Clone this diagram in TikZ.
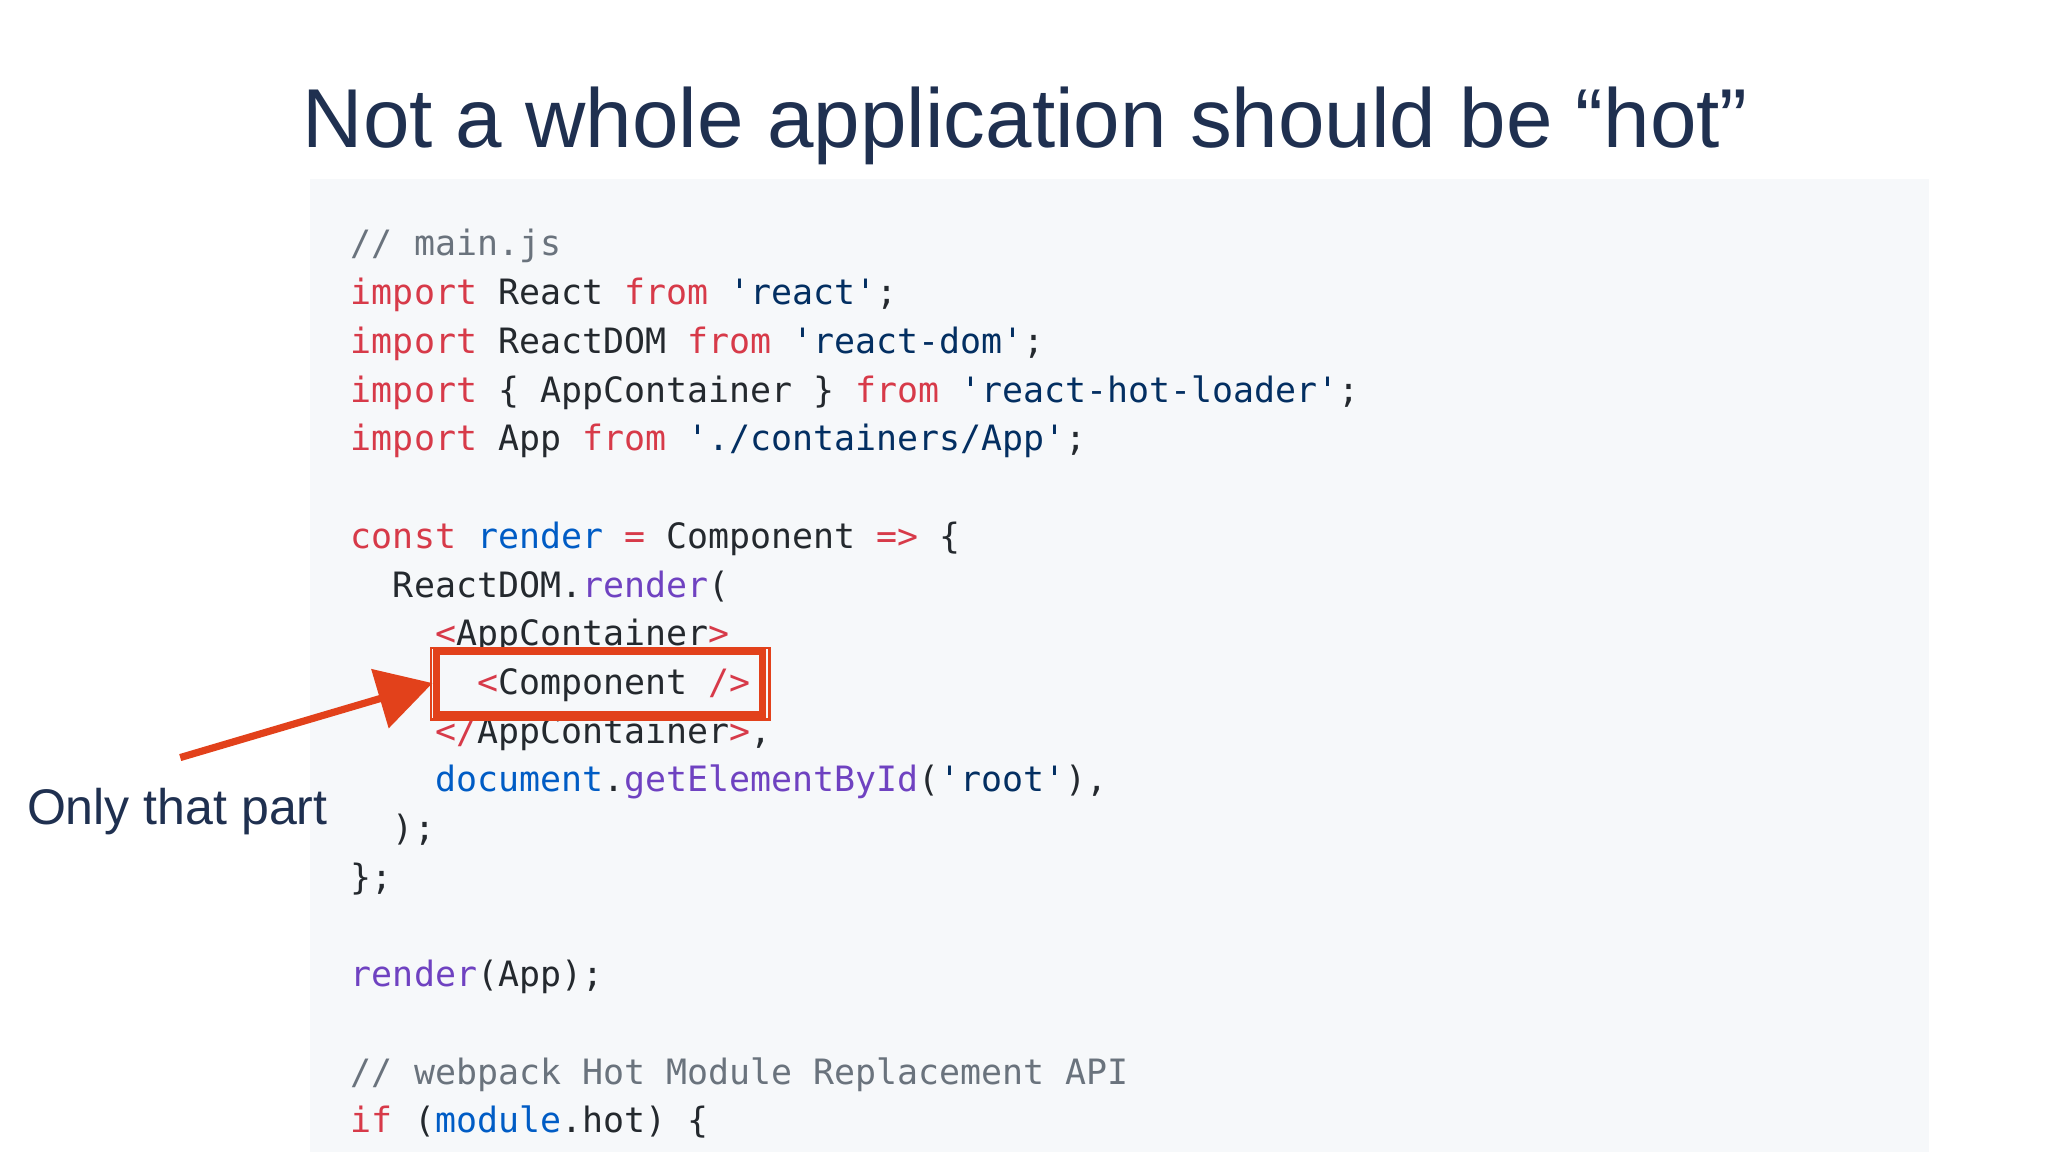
\documentclass[tikz,border=0pt]{standalone}
\usepackage{fontspec}
\setmainfont{Liberation Sans}
\newfontfamily\codefont{DejaVu Sans Mono}
\usetikzlibrary{arrows.meta}
\definecolor{kw}{HTML}{D73A49}
\definecolor{st}{HTML}{032F62}
\definecolor{fn}{HTML}{6F42C1}
\definecolor{bl}{HTML}{005CC5}
\definecolor{cm}{HTML}{6A737D}
\definecolor{df}{HTML}{24292E}
\definecolor{navy}{HTML}{1F3050}
\definecolor{hlred}{HTML}{E2411B}
\definecolor{codebg}{HTML}{F6F8FA}
\newcommand\q{\char"27\relax}
\newcommand\K[1]{\textcolor{kw}{#1}}
\newcommand\Sx[1]{\textcolor{st}{#1}}
\newcommand\F[1]{\textcolor{fn}{#1}}
\newcommand\B[1]{\textcolor{bl}{#1}}
\newcommand\C[1]{\textcolor{cm}{#1}}
\tikzset{codeline/.style={anchor=base west,inner sep=0pt,text=df,font=\codefont\fontsize{7.6}{9}\selectfont}}
\begin{document}
\begin{tikzpicture}[x=0.01cm,y=-0.01cm]
\useasboundingbox (0,0) rectangle (1568,882);
\fill[codebg] (237,137) rectangle (1477,882);
\node[anchor=base,inner sep=0pt,text=navy,font=\fontsize{18.2}{22}\selectfont] (title) at (785,113) {Not a whole application should be “hot”};
\newcommand\Ln[3]{\node[codeline] (#1) at (268,{186+37.3*#2+10}) {#3};}
\Ln{l0}{0}{\C{// main.js}}
\Ln{l1}{1}{\K{import} React \K{from} \Sx{\q react\q};}
\Ln{l2}{2}{\K{import} ReactDOM \K{from} \Sx{\q react-dom\q};}
\Ln{l3}{3}{\K{import} \{ AppContainer \} \K{from} \Sx{\q react-hot-loader\q};}
\Ln{l4}{4}{\K{import} App \K{from} \Sx{\q ./containers/App\q};}
\Ln{l6}{6}{\K{const} \B{render} \K{=} Component \K{=>} \{}
\Ln{l7}{7}{\ \ ReactDOM.\F{render}(}
\Ln{l8}{8}{\ \ \ \ \K{<}AppContainer\K{>}}
\Ln{l9}{9}{\ \ \ \ \ \ \K{<}Component \K{/>}}
\Ln{l10}{10}{\ \ \ \ \K{</}AppContainer\K{>},}
\Ln{l11}{11}{\ \ \ \ \B{document}.\F{getElementById}(\Sx{\q root\q}),}
\Ln{l12}{12}{\ \ );}
\Ln{l13}{13}{\};}
\Ln{l15}{15}{\F{render}(App);}
\Ln{l17}{17}{\C{// webpack Hot Module Replacement API}}
\Ln{l18}{18}{\K{if} (\B{module}.hot) \{}
\node[draw=hlred,line width=0.055cm,minimum width=2.5cm,minimum height=0.48cm,inner sep=0pt] (hl) at (459,523) {};
\draw[hlred,line width=0.02cm] (330,496) rectangle (589,551);
\node[anchor=base west,inner sep=0pt,text=navy,font=\fontsize{10.9}{13}\selectfont] (only) at (20,631) {Only that part};
\coordinate (as) at (138,580);
\draw[hlred,line width=0.055cm,-{Triangle[length=0.42cm,width=0.46cm]}] (as) -- (hl.west);
\end{tikzpicture}
\end{document}
